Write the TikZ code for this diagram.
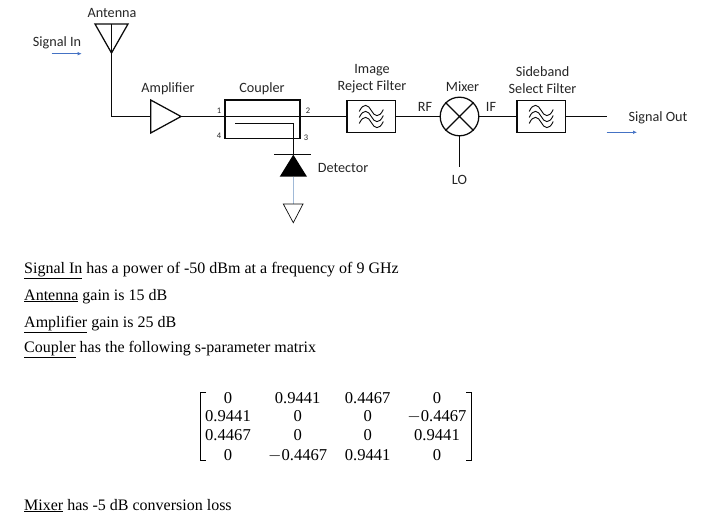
\documentclass[tikz,border=0pt]{standalone}
\usepackage{fontspec}
\setmainfont{Liberation Serif}
\newfontfamily\labelfont{Carlito}
\usetikzlibrary{arrows.meta}
\definecolor{inkline}{RGB}{10,10,10}
\definecolor{flowblue}{RGB}{68,114,196}
\definecolor{groundline}{RGB}{160,185,215}
\tikzset{
  x=1pt,y=-1pt,
  wire/.style={draw=inkline,line width=1.25pt},
  lab/.style={inner sep=0pt,font=\labelfont\fontsize{14.2}{16}\selectfont,text=black!85,align=center},
  portlab/.style={inner sep=0pt,font=\labelfont\fontsize{8.5}{9}\selectfont,text=black!85},
  body/.style={inner sep=0pt,anchor=base west,font=\fontsize{16}{19}\selectfont,text=black},
  cell/.style={inner sep=0pt,anchor=base,font=\fontsize{16.6}{19}\selectfont,text=black},
  filterbox/.style={draw=inkline,line width=1.25pt,minimum width=48.5pt,minimum height=32pt,inner sep=0pt},
  couplerbox/.style={draw=inkline,line width=1.25pt,minimum width=75pt,minimum height=38.7pt,inner sep=0pt},
  mixercircle/.style={draw=inkline,line width=1.25pt,circle,minimum size=38.6pt,inner sep=0pt},
  flow/.style={draw=flowblue,line width=0.7pt,-{Latex[length=4pt,width=3.6pt]}},
  waves/.pic={
    \foreach \d in {-6,0,6}{
      \draw[draw=inkline,line width=0.9pt] (-12,{\d+1}) .. controls (-8,{\d-8}) and (-3,{\d-6}) .. (0,\d) .. controls (3,{\d+6}) and (8,{\d+8}) .. (12,{\d-1});
    }
  }
}
\begin{document}
\begin{tikzpicture}
\useasboundingbox[fill=white] (0,0) rectangle (721,530);
% labels
\node[lab] (tAnt) at (112,12.5) {Antenna};
\node[lab] (tIn) at (57,43) {Signal In};
\node[lab] (tAmp) at (168,88.5) {Amplifier};
\node[lab] (tCoup) at (262,89) {Coupler};
\node[lab] (tImg) at (372,70) {Image};
\node[lab] (tRej) at (372,87) {Reject Filter};
\node[lab] (tMix) at (462.5,87) {Mixer};
\node[lab] (tSide) at (542.5,72) {Sideband};
\node[lab] (tSel) at (542.5,89) {Select Filter};
\node[lab] (tRF) at (425,106.5) {RF};
\node[lab] (tIF) at (491,106.5) {IF};
\node[lab] (tOut) at (658,117.5) {Signal Out};
\node[lab] (tDet) at (343,168) {Detector};
\node[lab] (tLO) at (459.5,180) {LO};
\node[portlab] (p1) at (219,111) {1};
\node[portlab] (p2) at (308,111) {2};
\node[portlab] (p4) at (219,136) {4};
\node[portlab] (p3) at (306,137.5) {3};
% blocks
\node[couplerbox] (coupler) at (262.5,119.3) {};
\node[filterbox] (imgf) at (371.3,116.5) {};
\node[filterbox] (ssf) at (541.2,116.5) {};
\node[mixercircle] (mixer) at (459.5,116.5) {};
\pic at (imgf.center) {waves};
\pic at (ssf.center) {waves};
\draw[wire] (mixer.45) -- (mixer.225) (mixer.135) -- (mixer.315);
% reference points
\coordinate (antL) at (95,24);
\coordinate (antR) at (128,24);
\coordinate (antT) at (111.5,24);
\coordinate (antB) at (111.5,53);
\coordinate (bend) at (111.5,116.5);
\coordinate (ampTop) at (150.7,100);
\coordinate (ampBot) at (150.7,133);
\coordinate (ampIn) at (150.7,116.5);
\coordinate (ampOut) at (181,116.5);
\coordinate (cplStart) at (235,123.3);
\coordinate (cplBend) at (293.3,123.3);
\coordinate (dioTip) at (293.3,154.7);
\coordinate (barL) at (274,154.7);
\coordinate (barR) at (311,154.7);
\coordinate (dioL) at (279.7,176.7);
\coordinate (dioR) at (307,176.7);
\coordinate (dioB) at (293.3,176.7);
\coordinate (gndT) at (293.3,204);
\coordinate (gndL) at (283.3,204);
\coordinate (gndR) at (303,204);
\coordinate (gndB) at (293.3,222.7);
\coordinate (loEnd) at (459.5,166.7);
\coordinate (outEnd) at (606.7,116.5);
\coordinate (inA) at (51.7,53.7);
\coordinate (inB) at (81.7,53.7);
\coordinate (outA) at (606.7,132.3);
\coordinate (outB) at (637,132.3);
% antenna and amplifier
\draw[wire,line join=miter] (antL) -- (antR) -- (antB) -- cycle;
\draw[wire] (antT) -- (bend) -- (ampIn);
\draw[wire] (ampTop) -- (ampOut) -- (ampBot) -- cycle;
% through line
\draw[wire] (ampOut) -- (imgf.west);
\draw[wire] (imgf.east) -- (mixer.west);
\draw[wire] (mixer.east) -- (ssf.west);
\draw[wire] (ssf.east) -- (outEnd);
\draw[wire] (mixer.south) -- (loEnd);
% coupled line and detector
\draw[wire] (cplStart) -- (cplBend) -- (dioTip);
\draw[wire] (barL) -- (barR);
\fill[black] (dioTip) -- (dioR) -- (dioL) -- cycle;
\draw[draw=groundline,line width=0.8pt] (dioB) -- (gndT);
\draw[draw=inkline,line width=0.7pt] (gndL) -- (gndR) -- (gndB) -- cycle;
% flow arrows
\draw[flow] (inA) -- (inB);
\draw[flow] (outA) -- (outB);
% body text
\node[body] (l1) at (24,273) {\underline{Signal In} has a power of -50 dBm at a frequency of 9 GHz};
\node[body] (l2) at (24,300) {\underline{Antenna} gain is 15 dB};
\node[body] (l3) at (24,327) {\underline{Amplifier} gain is 25 dB};
\node[body] (l4) at (24,352) {\underline{Coupler} has the following s-parameter matrix};
\node[body] (l5) at (24,510) {\underline{Mixer} has -5 dB conversion loss};
% matrix
\node[cell] (m11) at (228,403) {0};
\node[cell] (m12) at (297.7,403) {0.9441};
\node[cell] (m13) at (367.7,403) {0.4467};
\node[cell] (m14) at (437,403) {0};
\node[cell] (m21) at (228,421.5) {0.9441};
\node[cell] (m22) at (297.7,421.5) {0};
\node[cell] (m23) at (367.7,421.5) {0};
\node[cell] (m24) at (437,421.5) {$-$0.4467};
\node[cell] (m31) at (228,440.5) {0.4467};
\node[cell] (m32) at (297.7,440.5) {0};
\node[cell] (m33) at (367.7,440.5) {0};
\node[cell] (m34) at (437,440.5) {0.9441};
\node[cell] (m41) at (228,460) {0};
\node[cell] (m42) at (297.7,460) {$-$0.4467};
\node[cell] (m43) at (367.7,460) {0.9441};
\node[cell] (m44) at (437,460) {0};
\draw[draw=black,line width=1.1pt] (206,392.5) -- (200.5,392.5) -- (200.5,460.5) -- (206,460.5);
\draw[draw=black,line width=1.1pt] (466,392.5) -- (471.5,392.5) -- (471.5,460.5) -- (466,460.5);
\end{tikzpicture}
\end{document}
